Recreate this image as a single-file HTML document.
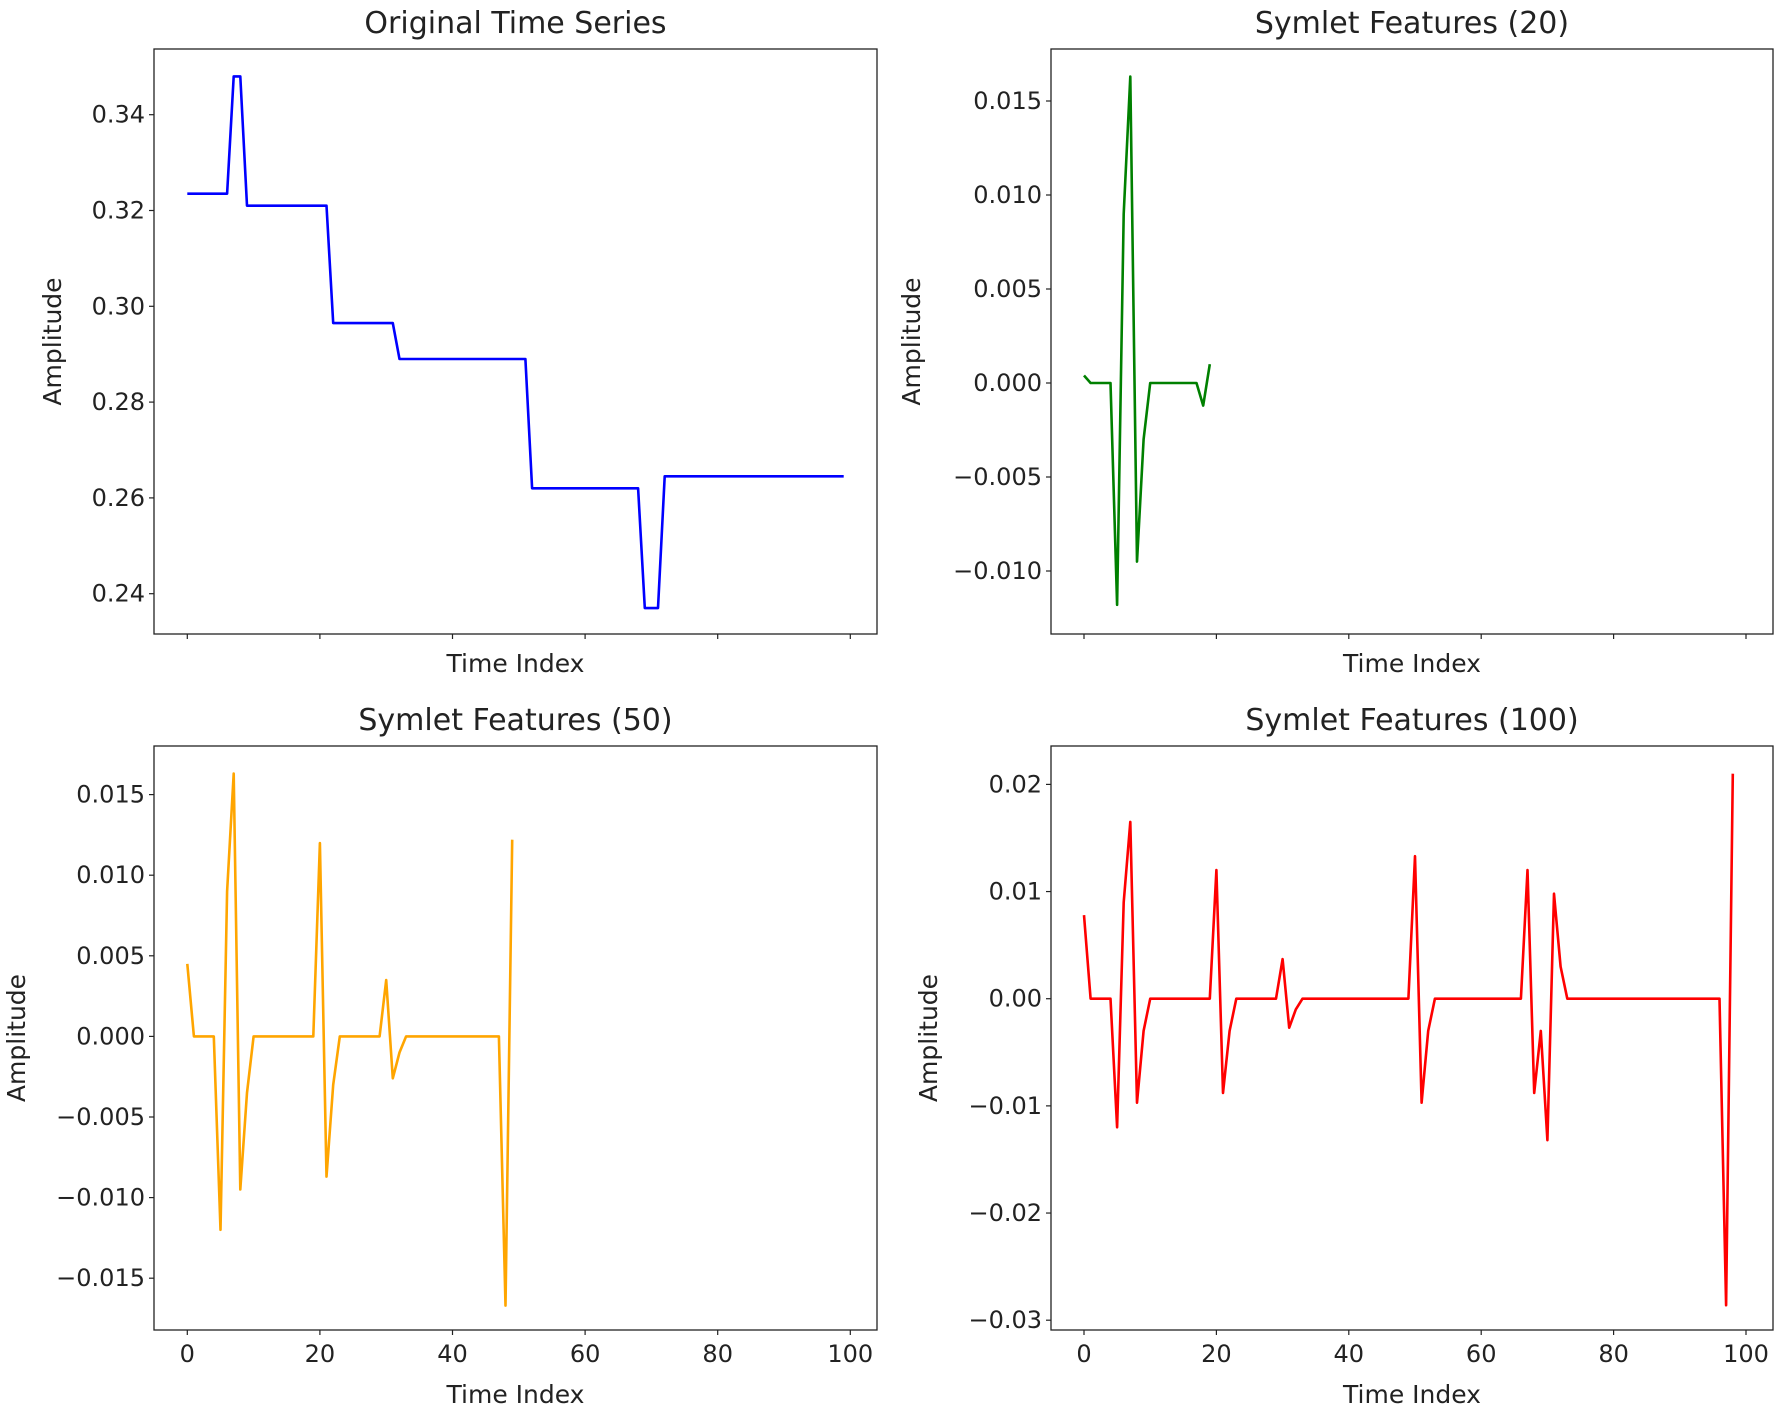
<!DOCTYPE html>
<html><head><meta charset="utf-8"><style>
body{margin:0;background:#fff}
svg text{font-family:"DejaVu Sans","Liberation Sans",sans-serif;fill:#222}
</style></head><body>
<svg id="fig" width="1780" height="1412" viewBox="0 0 1780 1412" xmlns="http://www.w3.org/2000/svg"></svg>
<script>
const origValues=[0.3235,0.3235,0.3235,0.3235,0.3235,0.3235,0.3235,0.348,0.348,0.321,0.321,0.321,0.321,0.321,0.321,0.321,0.321,0.321,0.321,0.321,0.321,0.321,0.2965,0.2965,0.2965,0.2965,0.2965,0.2965,0.2965,0.2965,0.2965,0.2965,0.289,0.289,0.289,0.289,0.289,0.289,0.289,0.289,0.289,0.289,0.289,0.289,0.289,0.289,0.289,0.289,0.289,0.289,0.289,0.289,0.262,0.262,0.262,0.262,0.262,0.262,0.262,0.262,0.262,0.262,0.262,0.262,0.262,0.262,0.262,0.262,0.262,0.237,0.237,0.237,0.2645,0.2645,0.2645,0.2645,0.2645,0.2645,0.2645,0.2645,0.2645,0.2645,0.2645,0.2645,0.2645,0.2645,0.2645,0.2645,0.2645,0.2645,0.2645,0.2645,0.2645,0.2645,0.2645,0.2645,0.2645,0.2645,0.2645,0.2645];
const sym20Values=[0.0004,0,0,0,0,-0.0118,0.009,0.0163,-0.0095,-0.003,0,0,0,0,0,0,0,0,-0.0012,0.001];
const sym50Values=[0.0045,0,0,0,0,-0.012,0.009,0.0163,-0.0095,-0.0035,0,0,0,0,0,0,0,0,0,0,0.012,-0.0087,-0.003,0,0,0,0,0,0,0,0.0035,-0.0026,-0.001,0,0,0,0,0,0,0,0,0,0,0,0,0,0,0,-0.0167,0.0122];
const sym100Values=[0.0078,0,0,0,0,-0.012,0.009,0.0165,-0.0097,-0.003,0,0,0,0,0,0,0,0,0,0,0.012,-0.0088,-0.003,0,0,0,0,0,0,0,0.0037,-0.0027,-0.001,0,0,0,0,0,0,0,0,0,0,0,0,0,0,0,0,0,0.0133,-0.0097,-0.003,0,0,0,0,0,0,0,0,0,0,0,0,0,0,0.012,-0.0088,-0.003,-0.0132,0.0098,0.003,0,0,0,0,0,0,0,0,0,0,0,0,0,0,0,0,0,0,0,0,0,0,0,0,-0.0286,0.021];
const xTickValues=[0,20,40,60,80,100];
const origYTicks=[0.24,0.26,0.28,0.30,0.32,0.34];
const sym20YTicks=[-0.010,-0.005,0.000,0.005,0.010,0.015];
const sym50YTicks=[-0.015,-0.010,-0.005,0.000,0.005,0.010,0.015];
const sym100YTicks=[-0.03,-0.02,-0.01,0.00,0.01,0.02];

const NS="http://www.w3.org/2000/svg";
const svg=document.getElementById('fig');
function mk(tag,attrs,parent){const e=document.createElementNS(NS,tag);for(const k in attrs)e.setAttribute(k,attrs[k]);(parent||svg).appendChild(e);return e;}
function fmt(v,d){let s=v.toFixed(d);if(v<0)s='\u2212'+s.slice(1);return s;}

function panel(p){
  const g=mk('g',{});
  
  
  const xS=v=>p.x0+(v-0)*(p.x100-p.x0)/100;
  const yS=v=>p.ya+(v-p.va)*(p.yb-p.ya)/(p.vb-p.va);
  const t=mk('text',{x:(p.L+p.R)/2,y:p.T-16,'text-anchor':'middle','font-size':30},g);t.textContent=p.title;
  
  p.yt.forEach(v=>{
    const y=yS(v);
    const tk=mk('line',{x1:p.L-5,x2:p.L,y1:y,y2:y,stroke:'#222','stroke-width':1.2},g);
    
    const l=mk('text',{x:p.L-9,y:y+8,'text-anchor':'end','font-size':24},g);l.textContent=fmt(v,p.dec);
    
  });
  xTickValues.forEach(v=>{
    const x=xS(v);
    const tk=mk('line',{x1:x,x2:x,y1:p.B,y2:p.B+5,stroke:'#222','stroke-width':1.2},g);
    
    if(p.xlab){const l=mk('text',{x:x,y:p.B+32,'text-anchor':'middle','font-size':24},g);l.textContent=v;
      }
  });
  const pts=p.data.map((v,i)=>xS(i).toFixed(1)+','+yS(v).toFixed(1)).join(' ');
  const pl=mk('polyline',{points:pts,fill:'none',stroke:p.color,'stroke-width':2.6,'stroke-linejoin':'round'},g);
  
  const fr=mk('rect',{x:p.L,y:p.T,width:p.R-p.L,height:p.B-p.T,fill:'none',stroke:'#222','stroke-width':1.3},g);
  
  const xl=mk('text',{x:(p.L+p.R)/2,y:p.xlY,'text-anchor':'middle','font-size':25},g);xl.textContent='Time Index';
  
  const yl=mk('text',{x:0,y:0,'text-anchor':'middle','font-size':25,transform:`translate(${p.ylX},${(p.T+p.B)/2}) rotate(-90)`},g);yl.textContent='Amplitude';
  
}
panel({name:'original-series-panel',title:'Original Time Series',L:154,R:877,T:49,B:634,x0:187.3,x100:850.3,va:0.34,ya:114.7,vb:0.24,yb:593.7,yt:origYTicks,dec:2,data:origValues,color:'#0000ff',xlab:false,xlY:672,ylX:61});
panel({name:'symlet-20-panel',title:'Symlet Features (20)',L:1051,R:1773,T:49,B:634,x0:1084,x100:1746,va:0.015,ya:101,vb:-0.010,yb:571,yt:sym20YTicks,dec:3,data:sym20Values,color:'#008000',xlab:false,xlY:672,ylX:920});
panel({name:'symlet-50-panel',title:'Symlet Features (50)',L:154,R:877,T:746,B:1330,x0:187.3,x100:850.3,va:0.015,ya:794.6,vb:-0.015,yb:1278.2,yt:sym50YTicks,dec:3,data:sym50Values,color:'#ffa500',xlab:true,xlY:1403,ylX:25});
panel({name:'symlet-100-panel',title:'Symlet Features (100)',L:1051,R:1773,T:746,B:1330,x0:1084,x100:1746,va:0.02,ya:784.4,vb:-0.03,yb:1320.2,yt:sym100YTicks,dec:2,data:sym100Values,color:'#ff0000',xlab:true,xlY:1403,ylX:937});
</script>
</body></html>
